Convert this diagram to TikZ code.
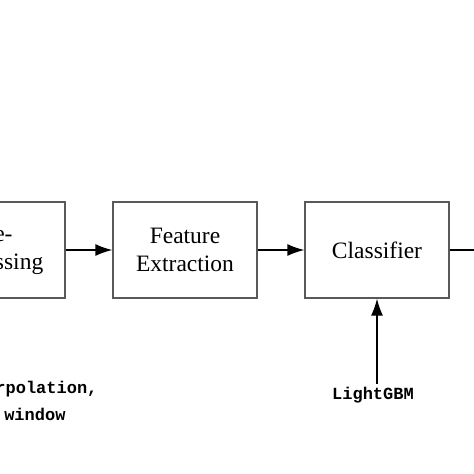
\documentclass[tikz,border=0pt]{standalone}
\usepackage{fontspec}
\setmainfont{Liberation Serif}
\setmonofont{Liberation Mono}
\usetikzlibrary{arrows.meta,positioning}

\begin{document}
\begin{tikzpicture}[x=1pt,y=1pt,node distance=192pt,on grid,
	block/.style={draw=black!65,line width=1.3pt,minimum width=144pt,minimum height=96pt,
		align=center,font=\fontsize{23.5}{28}\selectfont},
	flow/.style={-{Latex[length=17pt,width=12pt]},line width=1.4pt},
	note/.style={font=\ttfamily\bfseries\fontsize{17}{25}\selectfont}]
	\useasboundingbox (0,0) rectangle (474,-474);

	\node[block] (pre) at (-7,-250) {Pre-\\processing};
	\node[block] (feat) [right=of pre] {Feature\\Extraction};
	\node[block] (cls) [right=of feat] {Classifier};
	\coordinate (out) at (474,-250);

	\node[note,anchor=east] (interp) at (101,-389) {interpolation,};
	\node[note,anchor=east] (win) at (69,-414) {window};
	\node[note] (lgbm) at (373,-395) {LightGBM};

	\draw[flow] (pre) -- (feat);
	\draw[flow] (feat) -- (cls);
	\draw[line width=1.4pt] (cls) -- (out);
	\draw[flow] (cls.south |- lgbm.north) -- (cls.south);
\end{tikzpicture}
\end{document}
